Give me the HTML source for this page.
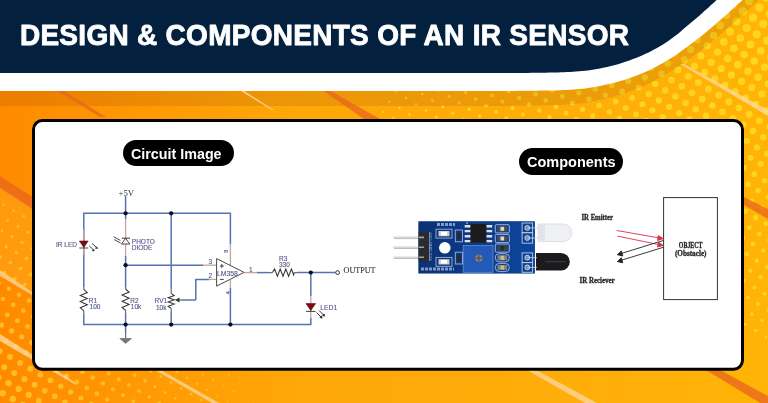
<!DOCTYPE html>
<html><head><meta charset="utf-8">
<style>
html,body{margin:0;padding:0;width:768px;height:403px;overflow:hidden;background:#f29a12;}
svg{position:absolute;left:0;top:0;display:block;filter:blur(0.4px);}
text{font-family:"Liberation Sans",sans-serif;}
text.serif,.serif text{font-family:"Liberation Serif",serif;}
</style></head>
<body>
<svg width="768" height="403" viewBox="0 0 768 403">
<defs>
  <linearGradient id="bg" x1="0" y1="0" x2="768" y2="0" gradientUnits="userSpaceOnUse">
    <stop offset="0" stop-color="#ff8a00"/>
    <stop offset="0.26" stop-color="#ff9f05"/>
    <stop offset="0.4" stop-color="#ffa808"/>
    <stop offset="0.78" stop-color="#ffae0a"/>
    <stop offset="1" stop-color="#ffb406"/>
  </linearGradient>
  <pattern id="dotsA" width="12" height="12" patternUnits="userSpaceOnUse" patternTransform="rotate(32)">
    <circle cx="6" cy="6" r="3.7" fill="#ffd820"/>
  </pattern>
  <pattern id="dotsB" width="11.7" height="11.7" patternUnits="userSpaceOnUse" patternTransform="rotate(30)">
    <circle cx="5.85" cy="5.85" r="2.9" fill="#ffc026"/>
  </pattern>
  <radialGradient id="mA" cx="768" cy="0" r="360" gradientUnits="userSpaceOnUse">
    <stop offset="0" stop-color="#fff" stop-opacity="0.95"/>
    <stop offset="0.55" stop-color="#fff" stop-opacity="0.7"/>
    <stop offset="1" stop-color="#fff" stop-opacity="0"/>
  </radialGradient>
  <radialGradient id="mB" cx="0" cy="403" r="250" gradientUnits="userSpaceOnUse">
    <stop offset="0" stop-color="#fff" stop-opacity="1"/>
    <stop offset="0.45" stop-color="#fff" stop-opacity="0.8"/>
    <stop offset="0.75" stop-color="#fff" stop-opacity="0.35"/>
    <stop offset="1" stop-color="#fff" stop-opacity="0"/>
  </radialGradient>
  <mask id="maskA"><rect width="768" height="403" fill="url(#mA)"/></mask>
  <mask id="maskB"><rect width="768" height="403" fill="url(#mB)"/></mask>
</defs>
<rect x="0" y="0" width="768" height="403" fill="url(#bg)"/>
<!-- subtle diagonal tonal bands -->
<path d="M0,186 L40,212 L40,298 L0,272 Z" fill="#ffd040" fill-opacity="0.22"/>

<g fill="#ffd820" fill-opacity="0.9"><circle cx="393.0" cy="5.1" r="1.30"/><circle cx="386.7" cy="15.2" r="1.25"/><circle cx="380.3" cy="25.4" r="1.19"/><circle cx="409.6" cy="1.2" r="1.43"/><circle cx="403.2" cy="11.4" r="1.38"/><circle cx="396.9" cy="21.6" r="1.33"/><circle cx="390.5" cy="31.8" r="1.27"/><circle cx="384.1" cy="41.9" r="1.21"/><circle cx="419.8" cy="7.6" r="1.51"/><circle cx="413.4" cy="17.8" r="1.46"/><circle cx="407.0" cy="27.9" r="1.40"/><circle cx="400.7" cy="38.1" r="1.35"/><circle cx="394.3" cy="48.3" r="1.29"/><circle cx="388.0" cy="58.5" r="1.22"/><circle cx="381.6" cy="68.7" r="1.16"/><circle cx="436.3" cy="3.8" r="1.65"/><circle cx="429.9" cy="14.0" r="1.59"/><circle cx="423.6" cy="24.1" r="1.54"/><circle cx="417.2" cy="34.3" r="1.48"/><circle cx="410.9" cy="44.5" r="1.42"/><circle cx="404.5" cy="54.7" r="1.36"/><circle cx="398.1" cy="64.8" r="1.30"/><circle cx="391.8" cy="75.0" r="1.23"/><circle cx="385.4" cy="85.2" r="1.16"/><circle cx="452.8" cy="-0.0" r="1.78"/><circle cx="446.5" cy="10.1" r="1.73"/><circle cx="440.1" cy="20.3" r="1.67"/><circle cx="433.8" cy="30.5" r="1.62"/><circle cx="427.4" cy="40.7" r="1.56"/><circle cx="421.0" cy="50.8" r="1.49"/><circle cx="414.7" cy="61.0" r="1.43"/><circle cx="408.3" cy="71.2" r="1.37"/><circle cx="402.0" cy="81.4" r="1.30"/><circle cx="395.6" cy="91.5" r="1.23"/><circle cx="389.2" cy="101.7" r="1.16"/><circle cx="382.9" cy="111.9" r="1.09"/><circle cx="463.0" cy="6.3" r="1.86"/><circle cx="456.6" cy="16.5" r="1.81"/><circle cx="450.3" cy="26.7" r="1.75"/><circle cx="443.9" cy="36.8" r="1.69"/><circle cx="437.6" cy="47.0" r="1.63"/><circle cx="431.2" cy="57.2" r="1.57"/><circle cx="424.9" cy="67.4" r="1.50"/><circle cx="418.5" cy="77.6" r="1.44"/><circle cx="412.1" cy="87.7" r="1.37"/><circle cx="405.8" cy="97.9" r="1.30"/><circle cx="399.4" cy="108.1" r="1.23"/><circle cx="393.1" cy="118.3" r="1.16"/><circle cx="479.5" cy="2.5" r="1.99"/><circle cx="473.2" cy="12.7" r="1.94"/><circle cx="466.8" cy="22.9" r="1.88"/><circle cx="460.5" cy="33.0" r="1.83"/><circle cx="454.1" cy="43.2" r="1.77"/><circle cx="447.7" cy="53.4" r="1.70"/><circle cx="441.4" cy="63.6" r="1.64"/><circle cx="435.0" cy="73.7" r="1.57"/><circle cx="428.7" cy="83.9" r="1.50"/><circle cx="422.3" cy="94.1" r="1.43"/><circle cx="416.0" cy="104.3" r="1.36"/><circle cx="409.6" cy="114.4" r="1.29"/><circle cx="403.2" cy="124.6" r="1.22"/><circle cx="496.1" cy="-1.3" r="2.12"/><circle cx="489.7" cy="8.9" r="2.07"/><circle cx="483.4" cy="19.0" r="2.02"/><circle cx="477.0" cy="29.2" r="1.96"/><circle cx="470.6" cy="39.4" r="1.90"/><circle cx="464.3" cy="49.6" r="1.84"/><circle cx="457.9" cy="59.7" r="1.77"/><circle cx="451.6" cy="69.9" r="1.71"/><circle cx="445.2" cy="80.1" r="1.64"/><circle cx="438.8" cy="90.3" r="1.57"/><circle cx="432.5" cy="100.4" r="1.50"/><circle cx="426.1" cy="110.6" r="1.43"/><circle cx="419.8" cy="120.8" r="1.35"/><circle cx="413.4" cy="131.0" r="1.28"/><circle cx="506.3" cy="5.0" r="2.21"/><circle cx="499.9" cy="15.2" r="2.15"/><circle cx="493.5" cy="25.4" r="2.09"/><circle cx="487.2" cy="35.6" r="2.04"/><circle cx="480.8" cy="45.7" r="1.97"/><circle cx="474.5" cy="55.9" r="1.91"/><circle cx="468.1" cy="66.1" r="1.84"/><circle cx="461.7" cy="76.3" r="1.77"/><circle cx="455.4" cy="86.5" r="1.71"/><circle cx="449.0" cy="96.6" r="1.63"/><circle cx="442.7" cy="106.8" r="1.56"/><circle cx="436.3" cy="117.0" r="1.49"/><circle cx="429.9" cy="127.2" r="1.41"/><circle cx="423.6" cy="137.3" r="1.33"/><circle cx="522.8" cy="1.2" r="2.34"/><circle cx="516.4" cy="11.4" r="2.29"/><circle cx="510.1" cy="21.6" r="2.23"/><circle cx="503.7" cy="31.8" r="2.17"/><circle cx="497.4" cy="41.9" r="2.11"/><circle cx="491.0" cy="52.1" r="2.05"/><circle cx="484.6" cy="62.3" r="1.98"/><circle cx="478.3" cy="72.5" r="1.91"/><circle cx="471.9" cy="82.6" r="1.84"/><circle cx="465.6" cy="92.8" r="1.77"/><circle cx="459.2" cy="103.0" r="1.70"/><circle cx="452.8" cy="113.2" r="1.62"/><circle cx="446.5" cy="123.3" r="1.55"/><circle cx="440.1" cy="133.5" r="1.47"/><circle cx="433.8" cy="143.7" r="1.39"/><circle cx="533.0" cy="7.6" r="2.42"/><circle cx="526.6" cy="17.8" r="2.36"/><circle cx="520.2" cy="27.9" r="2.31"/><circle cx="513.9" cy="38.1" r="2.24"/><circle cx="507.5" cy="48.3" r="2.18"/><circle cx="501.2" cy="58.5" r="2.11"/><circle cx="494.8" cy="68.6" r="2.05"/><circle cx="488.5" cy="78.8" r="1.98"/><circle cx="482.1" cy="89.0" r="1.90"/><circle cx="475.7" cy="99.2" r="1.83"/><circle cx="469.4" cy="109.3" r="1.76"/><circle cx="463.0" cy="119.5" r="1.68"/><circle cx="456.7" cy="129.7" r="1.60"/><circle cx="450.3" cy="139.9" r="1.52"/><circle cx="549.5" cy="3.8" r="2.55"/><circle cx="543.1" cy="13.9" r="2.50"/><circle cx="536.8" cy="24.1" r="2.44"/><circle cx="530.4" cy="34.3" r="2.38"/><circle cx="524.1" cy="44.5" r="2.32"/><circle cx="517.7" cy="54.6" r="2.25"/><circle cx="511.3" cy="64.8" r="2.18"/><circle cx="505.0" cy="75.0" r="2.11"/><circle cx="498.6" cy="85.2" r="2.04"/><circle cx="492.3" cy="95.4" r="1.97"/><circle cx="485.9" cy="105.5" r="1.89"/><circle cx="479.6" cy="115.7" r="1.81"/><circle cx="473.2" cy="125.9" r="1.74"/><circle cx="466.8" cy="136.1" r="1.66"/><circle cx="460.5" cy="146.2" r="1.58"/><circle cx="566.0" cy="-0.1" r="2.68"/><circle cx="559.7" cy="10.1" r="2.63"/><circle cx="553.3" cy="20.3" r="2.57"/><circle cx="547.0" cy="30.5" r="2.52"/><circle cx="540.6" cy="40.7" r="2.45"/><circle cx="534.2" cy="50.8" r="2.39"/><circle cx="527.9" cy="61.0" r="2.32"/><circle cx="521.5" cy="71.2" r="2.25"/><circle cx="515.2" cy="81.4" r="2.18"/><circle cx="508.8" cy="91.5" r="2.10"/><circle cx="502.4" cy="101.7" r="2.02"/><circle cx="496.1" cy="111.9" r="1.95"/><circle cx="489.7" cy="122.1" r="1.87"/><circle cx="483.4" cy="132.2" r="1.79"/><circle cx="477.0" cy="142.4" r="1.71"/><circle cx="470.7" cy="152.6" r="1.63"/><circle cx="576.2" cy="6.3" r="2.76"/><circle cx="569.9" cy="16.5" r="2.71"/><circle cx="563.5" cy="26.7" r="2.65"/><circle cx="557.1" cy="36.8" r="2.59"/><circle cx="550.8" cy="47.0" r="2.52"/><circle cx="544.4" cy="57.2" r="2.45"/><circle cx="538.1" cy="67.4" r="2.38"/><circle cx="531.7" cy="77.5" r="2.31"/><circle cx="525.3" cy="87.7" r="2.24"/><circle cx="519.0" cy="97.9" r="2.16"/><circle cx="512.6" cy="108.1" r="2.08"/><circle cx="506.3" cy="118.2" r="2.00"/><circle cx="499.9" cy="128.4" r="1.92"/><circle cx="493.5" cy="138.6" r="1.84"/><circle cx="487.2" cy="148.8" r="1.76"/><circle cx="480.8" cy="159.0" r="1.67"/><circle cx="592.8" cy="2.5" r="2.90"/><circle cx="586.4" cy="12.7" r="2.84"/><circle cx="580.0" cy="22.8" r="2.78"/><circle cx="573.7" cy="33.0" r="2.72"/><circle cx="567.3" cy="43.2" r="2.66"/><circle cx="561.0" cy="53.4" r="2.59"/><circle cx="554.6" cy="63.5" r="2.52"/><circle cx="548.2" cy="73.7" r="2.45"/><circle cx="541.9" cy="83.9" r="2.37"/><circle cx="535.5" cy="94.1" r="2.29"/><circle cx="529.2" cy="104.3" r="2.22"/><circle cx="522.8" cy="114.4" r="2.14"/><circle cx="516.4" cy="124.6" r="2.05"/><circle cx="510.1" cy="134.8" r="1.97"/><circle cx="503.7" cy="145.0" r="1.89"/><circle cx="497.4" cy="155.1" r="1.80"/><circle cx="491.0" cy="165.3" r="1.72"/><circle cx="609.3" cy="-1.3" r="3.03"/><circle cx="602.9" cy="8.8" r="2.98"/><circle cx="596.6" cy="19.0" r="2.92"/><circle cx="590.2" cy="29.2" r="2.86"/><circle cx="583.9" cy="39.4" r="2.79"/><circle cx="577.5" cy="49.6" r="2.73"/><circle cx="571.1" cy="59.7" r="2.65"/><circle cx="564.8" cy="69.9" r="2.58"/><circle cx="558.4" cy="80.1" r="2.50"/><circle cx="552.1" cy="90.3" r="2.43"/><circle cx="545.7" cy="100.4" r="2.35"/><circle cx="539.3" cy="110.6" r="2.27"/><circle cx="533.0" cy="120.8" r="2.19"/><circle cx="526.6" cy="131.0" r="2.10"/><circle cx="520.3" cy="141.1" r="2.02"/><circle cx="513.9" cy="151.3" r="1.93"/><circle cx="507.5" cy="161.5" r="1.85"/><circle cx="501.2" cy="171.7" r="1.76"/><circle cx="619.5" cy="5.0" r="3.11"/><circle cx="613.1" cy="15.2" r="3.05"/><circle cx="606.7" cy="25.4" r="2.99"/><circle cx="600.4" cy="35.6" r="2.93"/><circle cx="594.0" cy="45.7" r="2.86"/><circle cx="587.7" cy="55.9" r="2.79"/><circle cx="581.3" cy="66.1" r="2.72"/><circle cx="575.0" cy="76.3" r="2.64"/><circle cx="568.6" cy="86.4" r="2.56"/><circle cx="562.2" cy="96.6" r="2.48"/><circle cx="555.9" cy="106.8" r="2.40"/><circle cx="549.5" cy="117.0" r="2.32"/><circle cx="543.2" cy="127.1" r="2.23"/><circle cx="536.8" cy="137.3" r="2.15"/><circle cx="530.4" cy="147.5" r="2.06"/><circle cx="524.1" cy="157.7" r="1.98"/><circle cx="517.7" cy="167.9" r="1.89"/><circle cx="511.4" cy="178.0" r="1.80"/><circle cx="636.0" cy="1.2" r="3.24"/><circle cx="629.6" cy="11.4" r="3.19"/><circle cx="623.3" cy="21.6" r="3.13"/><circle cx="616.9" cy="31.7" r="3.06"/><circle cx="610.6" cy="41.9" r="3.00"/><circle cx="604.2" cy="52.1" r="2.92"/><circle cx="597.8" cy="62.3" r="2.85"/><circle cx="591.5" cy="72.4" r="2.77"/><circle cx="585.1" cy="82.6" r="2.69"/><circle cx="578.8" cy="92.8" r="2.61"/><circle cx="572.4" cy="103.0" r="2.53"/><circle cx="566.0" cy="113.2" r="2.45"/><circle cx="559.7" cy="123.3" r="2.36"/><circle cx="553.3" cy="133.5" r="2.28"/><circle cx="547.0" cy="143.7" r="2.19"/><circle cx="540.6" cy="153.9" r="2.10"/><circle cx="534.3" cy="164.0" r="2.02"/><circle cx="527.9" cy="174.2" r="1.93"/><circle cx="521.5" cy="184.4" r="1.84"/><circle cx="652.5" cy="-2.6" r="3.38"/><circle cx="646.2" cy="7.6" r="3.32"/><circle cx="639.8" cy="17.7" r="3.26"/><circle cx="633.5" cy="27.9" r="3.20"/><circle cx="627.1" cy="38.1" r="3.13"/><circle cx="620.7" cy="48.3" r="3.06"/><circle cx="614.4" cy="58.5" r="2.99"/><circle cx="608.0" cy="68.6" r="2.91"/><circle cx="601.7" cy="78.8" r="2.83"/><circle cx="595.3" cy="89.0" r="2.75"/><circle cx="588.9" cy="99.2" r="2.66"/><circle cx="582.6" cy="109.3" r="2.58"/><circle cx="576.2" cy="119.5" r="2.49"/><circle cx="569.9" cy="129.7" r="2.41"/><circle cx="563.5" cy="139.9" r="2.32"/><circle cx="557.1" cy="150.0" r="2.23"/><circle cx="550.8" cy="160.2" r="2.14"/><circle cx="544.4" cy="170.4" r="2.05"/><circle cx="538.1" cy="180.6" r="1.96"/><circle cx="531.7" cy="190.7" r="1.87"/><circle cx="662.7" cy="3.8" r="3.46"/><circle cx="656.4" cy="13.9" r="3.40"/><circle cx="650.0" cy="24.1" r="3.34"/><circle cx="643.6" cy="34.3" r="3.27"/><circle cx="637.3" cy="44.5" r="3.20"/><circle cx="630.9" cy="54.6" r="3.12"/><circle cx="624.6" cy="64.8" r="3.04"/><circle cx="618.2" cy="75.0" r="2.96"/><circle cx="611.8" cy="85.2" r="2.88"/><circle cx="605.5" cy="95.3" r="2.79"/><circle cx="599.1" cy="105.5" r="2.71"/><circle cx="592.8" cy="115.7" r="2.62"/><circle cx="586.4" cy="125.9" r="2.53"/><circle cx="580.0" cy="136.0" r="2.44"/><circle cx="573.7" cy="146.2" r="2.35"/><circle cx="567.3" cy="156.4" r="2.26"/><circle cx="561.0" cy="166.6" r="2.17"/><circle cx="554.6" cy="176.8" r="2.08"/><circle cx="548.2" cy="186.9" r="1.99"/><circle cx="541.9" cy="197.1" r="1.90"/><circle cx="679.2" cy="-0.1" r="3.59"/><circle cx="672.9" cy="10.1" r="3.53"/><circle cx="666.5" cy="20.3" r="3.47"/><circle cx="660.2" cy="30.5" r="3.40"/><circle cx="653.8" cy="40.6" r="3.33"/><circle cx="647.5" cy="50.8" r="3.25"/><circle cx="641.1" cy="61.0" r="3.17"/><circle cx="634.7" cy="71.2" r="3.09"/><circle cx="628.4" cy="81.3" r="3.01"/><circle cx="622.0" cy="91.5" r="2.92"/><circle cx="615.7" cy="101.7" r="2.83"/><circle cx="609.3" cy="111.9" r="2.75"/><circle cx="602.9" cy="122.1" r="2.66"/><circle cx="596.6" cy="132.2" r="2.57"/><circle cx="590.2" cy="142.4" r="2.48"/><circle cx="583.9" cy="152.6" r="2.39"/><circle cx="577.5" cy="162.8" r="2.30"/><circle cx="571.1" cy="172.9" r="2.20"/><circle cx="564.8" cy="183.1" r="2.11"/><circle cx="558.4" cy="193.3" r="2.02"/><circle cx="552.1" cy="203.5" r="1.93"/><circle cx="695.8" cy="-3.9" r="3.72"/><circle cx="689.4" cy="6.3" r="3.67"/><circle cx="683.1" cy="16.5" r="3.61"/><circle cx="676.7" cy="26.6" r="3.54"/><circle cx="670.3" cy="36.8" r="3.46"/><circle cx="664.0" cy="47.0" r="3.39"/><circle cx="657.6" cy="57.2" r="3.31"/><circle cx="651.3" cy="67.4" r="3.22"/><circle cx="644.9" cy="77.5" r="3.14"/><circle cx="638.6" cy="87.7" r="3.05"/><circle cx="632.2" cy="97.9" r="2.96"/><circle cx="625.8" cy="108.1" r="2.87"/><circle cx="619.5" cy="118.2" r="2.78"/><circle cx="613.1" cy="128.4" r="2.69"/><circle cx="606.8" cy="138.6" r="2.60"/><circle cx="600.4" cy="148.8" r="2.51"/><circle cx="594.0" cy="158.9" r="2.41"/><circle cx="587.7" cy="169.1" r="2.32"/><circle cx="581.3" cy="179.3" r="2.23"/><circle cx="575.0" cy="189.5" r="2.14"/><circle cx="568.6" cy="199.7" r="2.04"/><circle cx="562.2" cy="209.8" r="1.95"/><circle cx="706.0" cy="2.5" r="3.80"/><circle cx="699.6" cy="12.7" r="3.74"/><circle cx="693.2" cy="22.8" r="3.67"/><circle cx="686.9" cy="33.0" r="3.60"/><circle cx="680.5" cy="43.2" r="3.52"/><circle cx="674.2" cy="53.4" r="3.44"/><circle cx="667.8" cy="63.5" r="3.35"/><circle cx="661.4" cy="73.7" r="3.26"/><circle cx="655.1" cy="83.9" r="3.17"/><circle cx="648.7" cy="94.1" r="3.08"/><circle cx="642.4" cy="104.2" r="2.99"/><circle cx="636.0" cy="114.4" r="2.90"/><circle cx="629.7" cy="124.6" r="2.81"/><circle cx="623.3" cy="134.8" r="2.72"/><circle cx="616.9" cy="144.9" r="2.63"/><circle cx="610.6" cy="155.1" r="2.53"/><circle cx="604.2" cy="165.3" r="2.44"/><circle cx="597.9" cy="175.5" r="2.34"/><circle cx="591.5" cy="185.7" r="2.25"/><circle cx="585.1" cy="195.8" r="2.16"/><circle cx="578.8" cy="206.0" r="2.06"/><circle cx="572.4" cy="216.2" r="1.97"/><circle cx="722.5" cy="-1.3" r="3.94"/><circle cx="716.1" cy="8.8" r="3.88"/><circle cx="709.8" cy="19.0" r="3.81"/><circle cx="703.4" cy="29.2" r="3.73"/><circle cx="697.1" cy="39.4" r="3.65"/><circle cx="690.7" cy="49.5" r="3.57"/><circle cx="684.3" cy="59.7" r="3.48"/><circle cx="678.0" cy="69.9" r="3.39"/><circle cx="671.6" cy="80.1" r="3.30"/><circle cx="665.3" cy="90.2" r="3.21"/><circle cx="658.9" cy="100.4" r="3.11"/><circle cx="652.5" cy="110.6" r="3.02"/><circle cx="646.2" cy="120.8" r="2.93"/><circle cx="639.8" cy="131.0" r="2.83"/><circle cx="633.5" cy="141.1" r="2.74"/><circle cx="627.1" cy="151.3" r="2.65"/><circle cx="620.7" cy="161.5" r="2.55"/><circle cx="614.4" cy="171.7" r="2.46"/><circle cx="608.0" cy="181.8" r="2.36"/><circle cx="601.7" cy="192.0" r="2.27"/><circle cx="595.3" cy="202.2" r="2.17"/><circle cx="589.0" cy="212.4" r="2.08"/><circle cx="582.6" cy="222.5" r="1.98"/><circle cx="732.7" cy="5.0" r="4.01"/><circle cx="726.3" cy="15.2" r="3.94"/><circle cx="720.0" cy="25.4" r="3.87"/><circle cx="713.6" cy="35.5" r="3.78"/><circle cx="707.2" cy="45.7" r="3.69"/><circle cx="700.9" cy="55.9" r="3.60"/><circle cx="694.5" cy="66.1" r="3.51"/><circle cx="688.2" cy="76.3" r="3.42"/><circle cx="681.8" cy="86.4" r="3.32"/><circle cx="675.4" cy="96.6" r="3.23"/><circle cx="669.1" cy="106.8" r="3.14"/><circle cx="662.7" cy="117.0" r="3.04"/><circle cx="656.4" cy="127.1" r="2.95"/><circle cx="650.0" cy="137.3" r="2.85"/><circle cx="643.6" cy="147.5" r="2.76"/><circle cx="637.3" cy="157.7" r="2.66"/><circle cx="630.9" cy="167.8" r="2.57"/><circle cx="624.6" cy="178.0" r="2.47"/><circle cx="618.2" cy="188.2" r="2.38"/><circle cx="611.8" cy="198.4" r="2.28"/><circle cx="605.5" cy="208.6" r="2.18"/><circle cx="599.1" cy="218.7" r="2.09"/><circle cx="592.8" cy="228.9" r="1.99"/><circle cx="749.2" cy="1.2" r="4.15"/><circle cx="742.8" cy="11.4" r="4.08"/><circle cx="736.5" cy="21.6" r="3.99"/><circle cx="730.1" cy="31.7" r="3.90"/><circle cx="723.8" cy="41.9" r="3.81"/><circle cx="717.4" cy="52.1" r="3.72"/><circle cx="711.1" cy="62.3" r="3.63"/><circle cx="704.7" cy="72.4" r="3.53"/><circle cx="698.3" cy="82.6" r="3.44"/><circle cx="692.0" cy="92.8" r="3.34"/><circle cx="685.6" cy="103.0" r="3.24"/><circle cx="679.3" cy="113.1" r="3.15"/><circle cx="672.9" cy="123.3" r="3.05"/><circle cx="666.5" cy="133.5" r="2.96"/><circle cx="660.2" cy="143.7" r="2.86"/><circle cx="653.8" cy="153.9" r="2.77"/><circle cx="647.5" cy="164.0" r="2.67"/><circle cx="641.1" cy="174.2" r="2.58"/><circle cx="634.7" cy="184.4" r="2.48"/><circle cx="628.4" cy="194.6" r="2.38"/><circle cx="622.0" cy="204.7" r="2.29"/><circle cx="615.7" cy="214.9" r="2.19"/><circle cx="609.3" cy="225.1" r="2.10"/><circle cx="602.9" cy="235.3" r="2.00"/><circle cx="765.7" cy="-2.6" r="4.27"/><circle cx="759.4" cy="7.6" r="4.21"/><circle cx="753.0" cy="17.7" r="4.11"/><circle cx="746.7" cy="27.9" r="4.02"/><circle cx="740.3" cy="38.1" r="3.92"/><circle cx="733.9" cy="48.3" r="3.83"/><circle cx="727.6" cy="58.4" r="3.73"/><circle cx="721.2" cy="68.6" r="3.64"/><circle cx="714.9" cy="78.8" r="3.54"/><circle cx="708.5" cy="89.0" r="3.44"/><circle cx="702.2" cy="99.1" r="3.35"/><circle cx="695.8" cy="109.3" r="3.25"/><circle cx="689.4" cy="119.5" r="3.16"/><circle cx="683.1" cy="129.7" r="3.06"/><circle cx="676.7" cy="139.9" r="2.96"/><circle cx="670.4" cy="150.0" r="2.87"/><circle cx="664.0" cy="160.2" r="2.77"/><circle cx="657.6" cy="170.4" r="2.68"/><circle cx="651.3" cy="180.6" r="2.58"/><circle cx="644.9" cy="190.7" r="2.48"/><circle cx="638.6" cy="200.9" r="2.39"/><circle cx="632.2" cy="211.1" r="2.29"/><circle cx="625.8" cy="221.3" r="2.20"/><circle cx="619.5" cy="231.4" r="2.10"/><circle cx="613.1" cy="241.6" r="2.00"/><circle cx="769.6" cy="13.9" r="4.19"/><circle cx="763.2" cy="24.1" r="4.10"/><circle cx="756.8" cy="34.3" r="4.01"/><circle cx="750.5" cy="44.4" r="3.92"/><circle cx="744.1" cy="54.6" r="3.82"/><circle cx="737.8" cy="64.8" r="3.73"/><circle cx="731.4" cy="75.0" r="3.63"/><circle cx="725.0" cy="85.2" r="3.54"/><circle cx="718.7" cy="95.3" r="3.44"/><circle cx="712.3" cy="105.5" r="3.35"/><circle cx="706.0" cy="115.7" r="3.25"/><circle cx="699.6" cy="125.9" r="3.15"/><circle cx="693.3" cy="136.0" r="3.06"/><circle cx="686.9" cy="146.2" r="2.96"/><circle cx="680.5" cy="156.4" r="2.87"/><circle cx="674.2" cy="166.6" r="2.77"/><circle cx="667.8" cy="176.7" r="2.67"/><circle cx="661.5" cy="186.9" r="2.58"/><circle cx="655.1" cy="197.1" r="2.48"/><circle cx="648.7" cy="207.3" r="2.39"/><circle cx="642.4" cy="217.5" r="2.29"/><circle cx="636.0" cy="227.6" r="2.20"/><circle cx="629.7" cy="237.8" r="2.10"/><circle cx="623.3" cy="248.0" r="2.00"/><circle cx="767.0" cy="40.6" r="3.98"/><circle cx="760.7" cy="50.8" r="3.89"/><circle cx="754.3" cy="61.0" r="3.80"/><circle cx="747.9" cy="71.2" r="3.71"/><circle cx="741.6" cy="81.3" r="3.62"/><circle cx="735.2" cy="91.5" r="3.52"/><circle cx="728.9" cy="101.7" r="3.43"/><circle cx="722.5" cy="111.9" r="3.33"/><circle cx="716.1" cy="122.0" r="3.24"/><circle cx="709.8" cy="132.2" r="3.14"/><circle cx="703.4" cy="142.4" r="3.05"/><circle cx="697.1" cy="152.6" r="2.95"/><circle cx="690.7" cy="162.8" r="2.86"/><circle cx="684.4" cy="172.9" r="2.76"/><circle cx="678.0" cy="183.1" r="2.67"/><circle cx="671.6" cy="193.3" r="2.57"/><circle cx="665.3" cy="203.5" r="2.48"/><circle cx="658.9" cy="213.6" r="2.38"/><circle cx="652.6" cy="223.8" r="2.29"/><circle cx="646.2" cy="234.0" r="2.19"/><circle cx="639.8" cy="244.2" r="2.09"/><circle cx="633.5" cy="254.3" r="2.00"/><circle cx="770.8" cy="57.2" r="3.84"/><circle cx="764.5" cy="67.3" r="3.76"/><circle cx="758.1" cy="77.5" r="3.67"/><circle cx="751.8" cy="87.7" r="3.59"/><circle cx="745.4" cy="97.9" r="3.50"/><circle cx="739.0" cy="108.1" r="3.40"/><circle cx="732.7" cy="118.2" r="3.31"/><circle cx="726.3" cy="128.4" r="3.22"/><circle cx="720.0" cy="138.6" r="3.13"/><circle cx="713.6" cy="148.8" r="3.03"/><circle cx="707.2" cy="158.9" r="2.94"/><circle cx="700.9" cy="169.1" r="2.84"/><circle cx="694.5" cy="179.3" r="2.75"/><circle cx="688.2" cy="189.5" r="2.66"/><circle cx="681.8" cy="199.6" r="2.56"/><circle cx="675.5" cy="209.8" r="2.47"/><circle cx="669.1" cy="220.0" r="2.37"/><circle cx="662.7" cy="230.2" r="2.27"/><circle cx="656.4" cy="240.3" r="2.18"/><circle cx="650.0" cy="250.5" r="2.08"/><circle cx="643.7" cy="260.7" r="1.99"/><circle cx="768.3" cy="83.9" r="3.63"/><circle cx="761.9" cy="94.1" r="3.55"/><circle cx="755.6" cy="104.2" r="3.46"/><circle cx="749.2" cy="114.4" r="3.37"/><circle cx="742.9" cy="124.6" r="3.28"/><circle cx="736.5" cy="134.8" r="3.19"/><circle cx="730.1" cy="144.9" r="3.10"/><circle cx="723.8" cy="155.1" r="3.01"/><circle cx="717.4" cy="165.3" r="2.92"/><circle cx="711.1" cy="175.5" r="2.82"/><circle cx="704.7" cy="185.6" r="2.73"/><circle cx="698.3" cy="195.8" r="2.64"/><circle cx="692.0" cy="206.0" r="2.54"/><circle cx="685.6" cy="216.2" r="2.45"/><circle cx="679.3" cy="226.4" r="2.35"/><circle cx="672.9" cy="236.5" r="2.26"/><circle cx="666.5" cy="246.7" r="2.17"/><circle cx="660.2" cy="256.9" r="2.07"/><circle cx="653.8" cy="267.1" r="1.98"/><circle cx="772.1" cy="100.4" r="3.50"/><circle cx="765.8" cy="110.6" r="3.42"/><circle cx="759.4" cy="120.8" r="3.33"/><circle cx="753.0" cy="130.9" r="3.25"/><circle cx="746.7" cy="141.1" r="3.16"/><circle cx="740.3" cy="151.3" r="3.07"/><circle cx="734.0" cy="161.5" r="2.98"/><circle cx="727.6" cy="171.7" r="2.89"/><circle cx="721.2" cy="181.8" r="2.80"/><circle cx="714.9" cy="192.0" r="2.71"/><circle cx="708.5" cy="202.2" r="2.61"/><circle cx="702.2" cy="212.4" r="2.52"/><circle cx="695.8" cy="222.5" r="2.43"/><circle cx="689.4" cy="232.7" r="2.34"/><circle cx="683.1" cy="242.9" r="2.24"/><circle cx="676.7" cy="253.1" r="2.15"/><circle cx="670.4" cy="263.2" r="2.05"/><circle cx="664.0" cy="273.4" r="1.96"/><circle cx="769.6" cy="127.1" r="3.28"/><circle cx="763.2" cy="137.3" r="3.20"/><circle cx="756.9" cy="147.5" r="3.12"/><circle cx="750.5" cy="157.7" r="3.03"/><circle cx="744.1" cy="167.8" r="2.94"/><circle cx="737.8" cy="178.0" r="2.86"/><circle cx="731.4" cy="188.2" r="2.77"/><circle cx="725.1" cy="198.4" r="2.68"/><circle cx="718.7" cy="208.5" r="2.59"/><circle cx="712.3" cy="218.7" r="2.49"/><circle cx="706.0" cy="228.9" r="2.40"/><circle cx="699.6" cy="239.1" r="2.31"/><circle cx="693.3" cy="249.2" r="2.22"/><circle cx="686.9" cy="259.4" r="2.13"/><circle cx="680.5" cy="269.6" r="2.03"/><circle cx="674.2" cy="279.8" r="1.94"/><circle cx="767.0" cy="153.8" r="3.07"/><circle cx="760.7" cy="164.0" r="2.99"/><circle cx="754.3" cy="174.2" r="2.90"/><circle cx="748.0" cy="184.4" r="2.82"/><circle cx="741.6" cy="194.5" r="2.73"/><circle cx="735.2" cy="204.7" r="2.64"/><circle cx="728.9" cy="214.9" r="2.55"/><circle cx="722.5" cy="225.1" r="2.46"/><circle cx="716.2" cy="235.3" r="2.37"/><circle cx="709.8" cy="245.4" r="2.28"/><circle cx="703.4" cy="255.6" r="2.19"/><circle cx="697.1" cy="265.8" r="2.10"/><circle cx="690.7" cy="276.0" r="2.01"/><circle cx="684.4" cy="286.1" r="1.92"/><circle cx="770.8" cy="170.4" r="2.94"/><circle cx="764.5" cy="180.6" r="2.85"/><circle cx="758.1" cy="190.7" r="2.77"/><circle cx="751.8" cy="200.9" r="2.69"/><circle cx="745.4" cy="211.1" r="2.60"/><circle cx="739.1" cy="221.3" r="2.51"/><circle cx="732.7" cy="231.4" r="2.43"/><circle cx="726.3" cy="241.6" r="2.34"/><circle cx="720.0" cy="251.8" r="2.25"/><circle cx="713.6" cy="262.0" r="2.16"/><circle cx="707.3" cy="272.1" r="2.07"/><circle cx="700.9" cy="282.3" r="1.98"/><circle cx="694.5" cy="292.5" r="1.89"/><circle cx="768.3" cy="197.1" r="2.72"/><circle cx="761.9" cy="207.3" r="2.64"/><circle cx="755.6" cy="217.4" r="2.56"/><circle cx="749.2" cy="227.6" r="2.47"/><circle cx="742.9" cy="237.8" r="2.39"/><circle cx="736.5" cy="248.0" r="2.30"/><circle cx="730.2" cy="258.1" r="2.21"/><circle cx="723.8" cy="268.3" r="2.12"/><circle cx="717.4" cy="278.5" r="2.04"/><circle cx="711.1" cy="288.7" r="1.95"/><circle cx="704.7" cy="298.9" r="1.86"/><circle cx="772.1" cy="213.6" r="2.59"/><circle cx="765.8" cy="223.8" r="2.51"/><circle cx="759.4" cy="234.0" r="2.43"/><circle cx="753.0" cy="244.2" r="2.34"/><circle cx="746.7" cy="254.3" r="2.26"/><circle cx="740.3" cy="264.5" r="2.17"/><circle cx="734.0" cy="274.7" r="2.09"/><circle cx="727.6" cy="284.9" r="2.00"/><circle cx="721.3" cy="295.0" r="1.91"/><circle cx="714.9" cy="305.2" r="1.82"/><circle cx="769.6" cy="240.3" r="2.38"/><circle cx="763.2" cy="250.5" r="2.30"/><circle cx="756.9" cy="260.7" r="2.21"/><circle cx="750.5" cy="270.9" r="2.13"/><circle cx="744.1" cy="281.0" r="2.04"/><circle cx="737.8" cy="291.2" r="1.96"/><circle cx="731.4" cy="301.4" r="1.87"/><circle cx="725.1" cy="311.6" r="1.78"/><circle cx="767.0" cy="267.0" r="2.16"/><circle cx="760.7" cy="277.2" r="2.08"/><circle cx="754.3" cy="287.4" r="2.00"/><circle cx="748.0" cy="297.6" r="1.91"/><circle cx="741.6" cy="307.8" r="1.83"/><circle cx="735.2" cy="317.9" r="1.74"/><circle cx="770.9" cy="283.6" r="2.03"/><circle cx="764.5" cy="293.8" r="1.95"/><circle cx="758.1" cy="303.9" r="1.87"/><circle cx="751.8" cy="314.1" r="1.78"/><circle cx="745.4" cy="324.3" r="1.70"/><circle cx="768.3" cy="310.3" r="1.82"/><circle cx="762.0" cy="320.5" r="1.74"/><circle cx="755.6" cy="330.6" r="1.65"/><circle cx="772.1" cy="326.8" r="1.69"/><circle cx="765.8" cy="337.0" r="1.60"/></g>
<g fill="#ffc026" fill-opacity="0.92"><circle cx="3.4" cy="204.6" r="1.22"/><circle cx="-2.4" cy="214.8" r="1.33"/><circle cx="13.6" cy="210.5" r="1.28"/><circle cx="7.7" cy="220.6" r="1.39"/><circle cx="1.9" cy="230.8" r="1.51"/><circle cx="-4.0" cy="240.9" r="1.62"/><circle cx="23.7" cy="216.3" r="1.33"/><circle cx="17.9" cy="226.5" r="1.45"/><circle cx="12.0" cy="236.6" r="1.56"/><circle cx="6.2" cy="246.7" r="1.68"/><circle cx="0.3" cy="256.9" r="1.79"/><circle cx="33.8" cy="222.2" r="1.38"/><circle cx="28.0" cy="232.3" r="1.50"/><circle cx="22.1" cy="242.5" r="1.62"/><circle cx="16.3" cy="252.6" r="1.74"/><circle cx="10.4" cy="262.7" r="1.85"/><circle cx="4.6" cy="272.8" r="1.97"/><circle cx="-1.3" cy="283.0" r="2.08"/><circle cx="44.0" cy="228.0" r="1.42"/><circle cx="38.1" cy="238.2" r="1.54"/><circle cx="32.3" cy="248.3" r="1.66"/><circle cx="26.4" cy="258.4" r="1.78"/><circle cx="20.6" cy="268.6" r="1.90"/><circle cx="14.7" cy="278.7" r="2.02"/><circle cx="8.9" cy="288.8" r="2.14"/><circle cx="3.0" cy="299.0" r="2.26"/><circle cx="-2.8" cy="309.1" r="2.37"/><circle cx="54.1" cy="233.9" r="1.45"/><circle cx="48.3" cy="244.0" r="1.57"/><circle cx="42.4" cy="254.2" r="1.70"/><circle cx="36.6" cy="264.3" r="1.82"/><circle cx="30.7" cy="274.4" r="1.95"/><circle cx="24.9" cy="284.5" r="2.07"/><circle cx="19.0" cy="294.7" r="2.19"/><circle cx="13.2" cy="304.8" r="2.31"/><circle cx="7.3" cy="314.9" r="2.43"/><circle cx="1.5" cy="325.1" r="2.54"/><circle cx="-4.4" cy="335.2" r="2.65"/><circle cx="64.2" cy="239.7" r="1.47"/><circle cx="58.4" cy="249.9" r="1.60"/><circle cx="52.5" cy="260.0" r="1.72"/><circle cx="46.7" cy="270.1" r="1.85"/><circle cx="40.8" cy="280.3" r="1.98"/><circle cx="35.0" cy="290.4" r="2.10"/><circle cx="29.1" cy="300.5" r="2.23"/><circle cx="23.3" cy="310.7" r="2.35"/><circle cx="17.4" cy="320.8" r="2.48"/><circle cx="11.6" cy="330.9" r="2.60"/><circle cx="5.7" cy="341.1" r="2.72"/><circle cx="-0.1" cy="351.2" r="2.83"/><circle cx="74.4" cy="245.6" r="1.48"/><circle cx="68.5" cy="255.7" r="1.61"/><circle cx="62.7" cy="265.9" r="1.74"/><circle cx="56.8" cy="276.0" r="1.87"/><circle cx="51.0" cy="286.1" r="2.00"/><circle cx="45.1" cy="296.2" r="2.13"/><circle cx="39.3" cy="306.4" r="2.25"/><circle cx="33.4" cy="316.5" r="2.38"/><circle cx="27.6" cy="326.6" r="2.51"/><circle cx="21.7" cy="336.8" r="2.63"/><circle cx="15.9" cy="346.9" r="2.76"/><circle cx="10.0" cy="357.0" r="2.88"/><circle cx="4.2" cy="367.2" r="3.00"/><circle cx="-1.7" cy="377.3" r="3.12"/><circle cx="84.5" cy="251.4" r="1.49"/><circle cx="78.7" cy="261.6" r="1.62"/><circle cx="72.8" cy="271.7" r="1.75"/><circle cx="67.0" cy="281.8" r="1.88"/><circle cx="61.1" cy="292.0" r="2.01"/><circle cx="55.3" cy="302.1" r="2.13"/><circle cx="49.4" cy="312.2" r="2.26"/><circle cx="43.6" cy="322.4" r="2.39"/><circle cx="37.7" cy="332.5" r="2.52"/><circle cx="31.9" cy="342.6" r="2.65"/><circle cx="26.0" cy="352.8" r="2.78"/><circle cx="20.2" cy="362.9" r="2.91"/><circle cx="14.3" cy="373.0" r="3.03"/><circle cx="8.5" cy="383.2" r="3.16"/><circle cx="2.6" cy="393.3" r="3.29"/><circle cx="-3.2" cy="403.4" r="3.36"/><circle cx="94.6" cy="257.3" r="1.49"/><circle cx="88.8" cy="267.4" r="1.62"/><circle cx="82.9" cy="277.6" r="1.75"/><circle cx="77.1" cy="287.7" r="1.87"/><circle cx="71.2" cy="297.8" r="2.00"/><circle cx="65.4" cy="307.9" r="2.13"/><circle cx="59.5" cy="318.1" r="2.26"/><circle cx="53.7" cy="328.2" r="2.39"/><circle cx="47.8" cy="338.3" r="2.52"/><circle cx="42.0" cy="348.5" r="2.64"/><circle cx="36.1" cy="358.6" r="2.77"/><circle cx="30.3" cy="368.7" r="2.90"/><circle cx="24.4" cy="378.9" r="3.02"/><circle cx="18.6" cy="389.0" r="3.14"/><circle cx="12.7" cy="399.1" r="3.25"/><circle cx="104.8" cy="263.1" r="1.48"/><circle cx="98.9" cy="273.3" r="1.61"/><circle cx="93.1" cy="283.4" r="1.73"/><circle cx="87.2" cy="293.5" r="1.86"/><circle cx="81.4" cy="303.7" r="1.99"/><circle cx="75.5" cy="313.8" r="2.11"/><circle cx="69.7" cy="323.9" r="2.24"/><circle cx="63.8" cy="334.1" r="2.37"/><circle cx="58.0" cy="344.2" r="2.49"/><circle cx="52.1" cy="354.3" r="2.62"/><circle cx="46.3" cy="364.5" r="2.74"/><circle cx="40.4" cy="374.6" r="2.86"/><circle cx="34.6" cy="384.7" r="2.97"/><circle cx="28.7" cy="394.9" r="3.07"/><circle cx="22.9" cy="405.0" r="3.15"/><circle cx="114.9" cy="269.0" r="1.46"/><circle cx="109.0" cy="279.1" r="1.58"/><circle cx="103.2" cy="289.3" r="1.71"/><circle cx="97.3" cy="299.4" r="1.84"/><circle cx="91.5" cy="309.5" r="1.96"/><circle cx="85.6" cy="319.6" r="2.09"/><circle cx="79.8" cy="329.8" r="2.21"/><circle cx="73.9" cy="339.9" r="2.33"/><circle cx="68.1" cy="350.0" r="2.45"/><circle cx="62.2" cy="360.2" r="2.57"/><circle cx="56.4" cy="370.3" r="2.68"/><circle cx="50.5" cy="380.4" r="2.79"/><circle cx="44.7" cy="390.6" r="2.89"/><circle cx="38.8" cy="400.7" r="2.97"/><circle cx="125.0" cy="274.8" r="1.43"/><circle cx="119.2" cy="285.0" r="1.55"/><circle cx="113.3" cy="295.1" r="1.68"/><circle cx="107.5" cy="305.2" r="1.80"/><circle cx="101.6" cy="315.4" r="1.92"/><circle cx="95.8" cy="325.5" r="2.04"/><circle cx="89.9" cy="335.6" r="2.16"/><circle cx="84.1" cy="345.8" r="2.28"/><circle cx="78.2" cy="355.9" r="2.40"/><circle cx="72.4" cy="366.0" r="2.51"/><circle cx="66.5" cy="376.2" r="2.61"/><circle cx="60.7" cy="386.3" r="2.71"/><circle cx="54.8" cy="396.4" r="2.79"/><circle cx="135.2" cy="280.7" r="1.39"/><circle cx="129.3" cy="290.8" r="1.52"/><circle cx="123.5" cy="301.0" r="1.64"/><circle cx="117.6" cy="311.1" r="1.76"/><circle cx="111.8" cy="321.2" r="1.88"/><circle cx="105.9" cy="331.3" r="1.99"/><circle cx="100.1" cy="341.5" r="2.11"/><circle cx="94.2" cy="351.6" r="2.22"/><circle cx="88.4" cy="361.7" r="2.33"/><circle cx="82.5" cy="371.9" r="2.43"/><circle cx="76.7" cy="382.0" r="2.53"/><circle cx="70.8" cy="392.1" r="2.61"/><circle cx="65.0" cy="402.3" r="2.69"/><circle cx="145.3" cy="286.5" r="1.35"/><circle cx="139.4" cy="296.7" r="1.47"/><circle cx="133.6" cy="306.8" r="1.59"/><circle cx="127.7" cy="316.9" r="1.71"/><circle cx="121.9" cy="327.1" r="1.82"/><circle cx="116.0" cy="337.2" r="1.93"/><circle cx="110.2" cy="347.3" r="2.04"/><circle cx="104.3" cy="357.5" r="2.15"/><circle cx="98.5" cy="367.6" r="2.25"/><circle cx="92.6" cy="377.7" r="2.34"/><circle cx="86.8" cy="387.9" r="2.43"/><circle cx="80.9" cy="398.0" r="2.51"/><circle cx="155.4" cy="292.4" r="1.30"/><circle cx="149.6" cy="302.5" r="1.42"/><circle cx="143.7" cy="312.7" r="1.53"/><circle cx="137.9" cy="322.8" r="1.65"/><circle cx="132.0" cy="332.9" r="1.76"/><circle cx="126.2" cy="343.0" r="1.86"/><circle cx="120.3" cy="353.2" r="1.97"/><circle cx="114.5" cy="363.3" r="2.07"/><circle cx="108.6" cy="373.4" r="2.16"/><circle cx="102.8" cy="383.6" r="2.25"/><circle cx="96.9" cy="393.7" r="2.33"/><circle cx="91.1" cy="403.8" r="2.40"/><circle cx="159.7" cy="308.4" r="1.36"/><circle cx="153.9" cy="318.5" r="1.47"/><circle cx="148.0" cy="328.6" r="1.58"/><circle cx="142.2" cy="338.8" r="1.68"/><circle cx="136.3" cy="348.9" r="1.79"/><circle cx="130.5" cy="359.0" r="1.89"/><circle cx="124.6" cy="369.2" r="1.98"/><circle cx="118.8" cy="379.3" r="2.07"/><circle cx="112.9" cy="389.4" r="2.15"/><circle cx="107.1" cy="399.6" r="2.22"/><circle cx="169.8" cy="314.2" r="1.29"/><circle cx="164.0" cy="324.4" r="1.40"/><circle cx="158.1" cy="334.5" r="1.50"/><circle cx="152.3" cy="344.6" r="1.61"/><circle cx="146.4" cy="354.7" r="1.70"/><circle cx="140.6" cy="364.9" r="1.80"/><circle cx="134.7" cy="375.0" r="1.89"/><circle cx="128.9" cy="385.1" r="1.97"/><circle cx="123.0" cy="395.3" r="2.04"/><circle cx="117.2" cy="405.4" r="2.11"/><circle cx="180.0" cy="320.1" r="1.22"/><circle cx="174.1" cy="330.2" r="1.32"/><circle cx="168.3" cy="340.3" r="1.42"/><circle cx="162.4" cy="350.5" r="1.52"/><circle cx="156.6" cy="360.6" r="1.62"/><circle cx="150.7" cy="370.7" r="1.70"/><circle cx="144.9" cy="380.9" r="1.79"/><circle cx="139.0" cy="391.0" r="1.87"/><circle cx="133.2" cy="401.1" r="1.93"/><circle cx="190.1" cy="325.9" r="1.14"/><circle cx="184.3" cy="336.1" r="1.24"/><circle cx="178.4" cy="346.2" r="1.34"/><circle cx="172.6" cy="356.3" r="1.43"/><circle cx="166.7" cy="366.4" r="1.52"/><circle cx="160.9" cy="376.6" r="1.61"/><circle cx="155.0" cy="386.7" r="1.69"/><circle cx="149.2" cy="396.8" r="1.76"/><circle cx="200.2" cy="331.8" r="1.06"/><circle cx="194.4" cy="341.9" r="1.16"/><circle cx="188.5" cy="352.0" r="1.25"/><circle cx="182.7" cy="362.2" r="1.34"/><circle cx="176.8" cy="372.3" r="1.43"/><circle cx="171.0" cy="382.4" r="1.51"/><circle cx="165.1" cy="392.6" r="1.58"/><circle cx="159.3" cy="402.7" r="1.65"/><circle cx="210.4" cy="337.6" r="0.98"/><circle cx="204.5" cy="347.8" r="1.07"/><circle cx="198.7" cy="357.9" r="1.16"/><circle cx="192.8" cy="368.0" r="1.24"/><circle cx="187.0" cy="378.1" r="1.33"/><circle cx="181.1" cy="388.3" r="1.40"/><circle cx="175.3" cy="398.4" r="1.47"/><circle cx="220.5" cy="343.5" r="0.89"/><circle cx="214.7" cy="353.6" r="0.98"/><circle cx="208.8" cy="363.7" r="1.06"/><circle cx="203.0" cy="373.9" r="1.14"/><circle cx="197.1" cy="384.0" r="1.22"/><circle cx="191.3" cy="394.1" r="1.29"/><circle cx="185.4" cy="404.3" r="1.36"/><circle cx="230.6" cy="349.3" r="0.80"/><circle cx="224.8" cy="359.5" r="0.88"/><circle cx="218.9" cy="369.6" r="0.96"/><circle cx="213.1" cy="379.7" r="1.04"/><circle cx="207.2" cy="389.8" r="1.12"/><circle cx="201.4" cy="400.0" r="1.18"/><circle cx="240.8" cy="355.2" r="0.70"/><circle cx="234.9" cy="365.3" r="0.78"/><circle cx="229.1" cy="375.4" r="0.86"/><circle cx="223.2" cy="385.6" r="0.94"/><circle cx="217.4" cy="395.7" r="1.01"/><circle cx="211.5" cy="405.8" r="1.07"/><circle cx="250.9" cy="361.0" r="0.60"/><circle cx="245.1" cy="371.2" r="0.68"/><circle cx="239.2" cy="381.3" r="0.76"/><circle cx="233.4" cy="391.4" r="0.83"/><circle cx="227.5" cy="401.5" r="0.90"/><circle cx="255.2" cy="377.0" r="0.58"/><circle cx="249.3" cy="387.1" r="0.65"/><circle cx="243.5" cy="397.3" r="0.72"/><circle cx="253.6" cy="403.1" r="0.61"/></g>
<!-- darker band under white stripe -->
<path d="M0,91 L400,91 L400.0,91.0 L402.0,91.0 L404.0,91.0 L406.0,91.0 L408.0,91.0 L410.0,91.0 L412.0,91.0 L414.0,91.0 L416.0,91.0 L418.0,91.0 L420.0,91.0 L422.0,91.0 L424.0,91.0 L426.0,91.0 L428.0,91.0 L430.0,91.0 L432.0,91.0 L434.0,91.0 L436.0,91.0 L438.0,91.0 L440.0,91.0 L442.0,91.0 L444.0,91.0 L446.0,91.0 L448.0,91.0 L450.0,91.0 L452.0,91.0 L454.0,91.0 L456.0,91.0 L458.0,91.0 L460.0,91.0 L462.0,91.0 L464.0,91.0 L466.0,91.0 L468.0,91.0 L470.0,91.0 L472.0,91.0 L474.0,91.0 L476.0,91.0 L478.0,91.0 L480.0,91.0 L482.0,91.0 L484.0,91.0 L486.0,91.0 L488.0,91.0 L490.0,91.0 L492.0,91.0 L494.0,91.0 L496.0,91.0 L498.0,91.0 L500.0,91.0 L502.0,90.9 L504.0,90.9 L506.0,90.9 L508.0,90.9 L510.0,90.9 L512.0,90.9 L514.0,90.9 L516.0,90.9 L518.0,90.8 L520.0,90.8 L522.0,90.8 L524.0,90.8 L526.0,90.8 L528.0,90.8 L530.0,90.7 L532.0,90.7 L534.0,90.7 L536.0,90.7 L538.0,90.7 L540.0,90.6 L542.0,90.6 L544.0,90.6 L546.0,90.6 L548.0,90.5 L550.0,90.5 L552.0,90.5 L554.0,90.4 L556.0,90.4 L558.0,90.3 L560.0,90.2 L562.0,90.1 L564.0,90.0 L566.0,89.9 L568.0,89.8 L570.0,89.7 L572.0,89.6 L574.0,89.4 L576.0,89.3 L578.0,89.2 L580.0,89.0 L582.0,88.8 L584.0,88.6 L586.0,88.4 L588.0,88.1 L590.0,87.8 L592.0,87.5 L594.0,87.1 L596.0,86.7 L598.0,86.3 L600.0,85.9 L602.0,85.5 L604.0,85.0 L606.0,84.6 L608.0,84.2 L610.0,83.7 L612.0,83.2 L614.0,82.7 L616.0,82.2 L618.0,81.7 L620.0,81.1 L622.0,80.5 L624.0,79.9 L626.0,79.2 L628.0,78.6 L630.0,77.9 L632.0,77.2 L634.0,76.5 L636.0,75.7 L638.0,75.0 L640.0,74.2 L642.0,73.4 L644.0,72.6 L646.0,71.7 L648.0,70.7 L650.0,69.8 L652.0,68.8 L654.0,67.7 L656.0,66.7 L658.0,65.6 L660.0,64.5 L662.0,63.4 L664.0,62.3 L666.0,61.1 L668.0,59.9 L670.0,58.7 L672.0,57.4 L674.0,56.1 L676.0,54.7 L678.0,53.4 L680.0,52.0 L682.0,50.6 L684.0,49.1 L686.0,47.7 L688.0,46.2 L690.0,44.7 L692.0,43.2 L694.0,41.7 L696.0,40.1 L698.0,38.6 L700.0,37.0 L702.0,35.4 L704.0,33.8 L706.0,32.2 L708.0,30.5 L710.0,28.8 L712.0,27.1 L714.0,25.4 L716.0,23.7 L718.0,21.9 L720.0,20.2 L722.0,18.5 L724.0,16.7 L726.0,14.9 L728.0,13.1 L730.0,11.3 L732.0,9.5 L734.0,7.7 L736.0,5.9 L738.0,4.1 L740.0,2.3 L742.0,0.5 L744.0,-1.3 L746.0,-3.1 L748.0,-5.0 L750.0,-7.1 L752.0,-9.4 L754.0,-11.8 L756.0,-14.4 L758.0,-17.1 L760.0,-20.0 L775,-20 L775,-20 L769.1,-13.9 L767.0,-10.7 L764.8,-7.8 L762.6,-4.9 L760.4,-2.3 L758.1,0.3 L755.9,2.7 L753.4,5.1 L751.2,7.0 L749.4,8.6 L747.4,10.4 L745.4,12.2 L743.4,14.0 L741.4,15.9 L739.4,17.7 L737.4,19.5 L735.3,21.3 L733.3,23.1 L731.3,24.9 L729.3,26.7 L727.2,28.5 L725.2,30.2 L723.2,32.0 L721.2,33.7 L719.1,35.5 L717.1,37.2 L715.1,38.9 L713.0,40.6 L711.0,42.3 L708.9,44.0 L706.8,45.6 L704.8,47.2 L702.7,48.8 L700.7,50.4 L698.7,52.0 L696.6,53.5 L694.6,55.0 L692.5,56.6 L690.4,58.1 L688.4,59.5 L686.3,61.0 L684.2,62.4 L682.1,63.9 L680.1,65.2 L678.0,66.6 L675.9,67.9 L673.8,69.3 L671.7,70.6 L669.6,71.9 L667.5,73.3 L665.4,74.5 L663.4,75.7 L661.4,76.8 L659.3,78.0 L657.2,79.1 L655.2,80.3 L653.1,81.4 L651.0,82.5 L648.8,83.6 L646.7,84.7 L644.5,85.8 L642.4,86.6 L640.4,87.4 L638.3,88.3 L636.2,89.1 L634.2,89.9 L632.1,90.7 L630.0,91.4 L627.9,92.2 L625.8,92.9 L623.7,93.6 L621.5,94.3 L619.4,95.0 L617.3,95.6 L615.1,96.3 L613.0,96.9 L611.0,97.3 L609.0,97.8 L606.9,98.3 L604.9,98.7 L602.8,99.2 L600.7,99.7 L598.6,100.2 L596.5,100.6 L594.4,101.1 L592.2,101.5 L590.0,102.0 L587.8,102.4 L585.6,102.8 L583.4,103.1 L581.1,103.4 L579.1,103.6 L577.0,103.8 L575.0,103.9 L573.0,104.1 L570.9,104.3 L568.8,104.4 L566.8,104.6 L564.7,104.7 L562.7,104.8 L560.6,104.9 L558.5,105.1 L556.5,105.2 L554.4,105.2 L552.3,105.3 L550.2,105.4 L548.2,105.4 L546.2,105.5 L544.2,105.5 L542.2,105.5 L540.2,105.5 L538.2,105.6 L536.2,105.6 L534.2,105.6 L532.2,105.6 L530.2,105.7 L528.1,105.7 L526.1,105.7 L524.1,105.7 L522.1,105.8 L520.1,105.8 L518.1,105.8 L516.1,105.8 L514.1,105.8 L512.1,105.8 L510.1,105.9 L508.1,105.9 L506.1,105.9 L504.1,105.9 L502.1,105.9 L500.1,105.9 L498.1,105.9 L496.1,106.0 L494.0,106.0 L492.0,106.0 L490.0,106.0 L488.0,106.0 L486.0,106.0 L484.0,106.0 L482.0,106.0 L480.0,106.0 L478.0,106.0 L476.0,106.0 L474.0,106.0 L472.0,106.0 L470.0,106.0 L468.0,106.0 L466.0,106.0 L464.0,106.0 L462.0,106.0 L460.0,106.0 L458.0,106.0 L456.0,106.0 L454.0,106.0 L452.0,106.0 L450.0,106.0 L448.0,106.0 L446.0,106.0 L444.0,106.0 L442.0,106.0 L440.0,106.0 L438.0,106.0 L436.0,106.0 L434.0,106.0 L432.0,106.0 L430.0,106.0 L428.0,106.0 L426.0,106.0 L424.0,106.0 L422.0,106.0 L420.0,106.0 L418.0,106.0 L416.0,106.0 L414.0,106.0 L412.0,106.0 L410.0,106.0 L408.0,106.0 L406.0,106.0 L404.0,106.0 L402.0,106.0 L400.0,106.0 L0,106 Z" fill="#602000" fill-opacity="0.12"/>
<!-- streaks -->
<g fill="#e8641e" fill-opacity="0.75">
 <path d="M56,90 L62,90 L106,117 L100,117 Z"/>
 <path d="M322,90 L329,90 L380,119 L364,119 Z"/>
 <path d="M0,176 L0,188 L34,210 L34,198 Z"/>
 <path d="M744,197 L768,209 L768,219 L744,205 Z"/>
 <path d="M706,370 L720,370 L768,396 L768,403 L760,403 Z"/>
</g>
<g fill="#fcd9a0" fill-opacity="0.75">
 <path d="M239,90 L243,90 L274,110 L272,110 Z"/>
 <path d="M680,64 L684,64 L768,110 L768,116 Z"/>
 <path d="M0,270 L0,276 L32,295 L32,292 Z"/>
 <path d="M0,334 L0,341 L76,385 L73,381 Z"/>
 <path d="M155,370 L161,370 L219,403 L212,403 Z"/>
 <path d="M527,370 L536,370 L597,403 L585,403 Z"/>
</g>

<!-- header -->
<path d="M0,-10 L748,-10 L748.0,-5.0 L747.0,-4.1 L744.0,-1.4 L741.0,1.4 L738.0,4.1 L735.0,6.8 L732.0,9.5 L729.0,12.2 L726.0,14.9 L723.0,17.6 L720.0,20.2 L717.0,22.8 L714.0,25.4 L711.0,28.0 L708.0,30.5 L705.0,33.0 L702.0,35.4 L699.0,37.8 L696.0,40.1 L693.0,42.4 L690.0,44.7 L687.0,47.0 L684.0,49.1 L681.0,51.3 L678.0,53.4 L675.0,55.4 L672.0,57.4 L669.0,59.3 L666.0,61.1 L663.0,62.9 L660.0,64.5 L657.0,66.2 L654.0,67.7 L651.0,69.3 L648.0,70.7 L645.0,72.1 L642.0,73.4 L639.0,74.6 L636.0,75.7 L633.0,76.8 L630.0,77.9 L627.0,78.9 L624.0,79.9 L621.0,80.8 L618.0,81.7 L615.0,82.5 L612.0,83.2 L609.0,83.9 L606.0,84.6 L603.0,85.3 L600.0,85.9 L597.0,86.5 L594.0,87.1 L591.0,87.6 L588.0,88.1 L585.0,88.5 L582.0,88.8 L579.0,89.1 L576.0,89.3 L573.0,89.5 L570.0,89.7 L567.0,89.9 L564.0,90.0 L561.0,90.2 L558.0,90.3 L555.0,90.4 L552.0,90.5 L549.0,90.5 L546.0,90.6 L543.0,90.6 L540.0,90.6 L537.0,90.7 L534.0,90.7 L531.0,90.7 L528.0,90.8 L525.0,90.8 L522.0,90.8 L519.0,90.8 L516.0,90.9 L513.0,90.9 L510.0,90.9 L507.0,90.9 L504.0,90.9 L501.0,91.0 L498.0,91.0 L495.0,91.0 L492.0,91.0 L489.0,91.0 L486.0,91.0 L483.0,91.0 L480.0,91.0 L0,91 Z" fill="#ffffff"/>
<path d="M0,-10 L722,-10 L722.0,-5.0 L720.0,-3.1 L717.0,-0.4 L714.0,2.4 L711.0,5.1 L708.0,7.9 L705.0,10.6 L702.0,13.2 L699.0,15.9 L696.0,18.4 L693.0,21.0 L690.0,23.5 L687.0,26.1 L684.0,28.6 L681.0,31.2 L678.0,33.7 L675.0,36.0 L672.0,38.2 L669.0,40.4 L666.0,42.4 L663.0,44.4 L660.0,46.2 L657.0,47.9 L654.0,49.6 L651.0,51.2 L648.0,52.7 L645.0,54.1 L642.0,55.5 L639.0,56.7 L636.0,57.9 L633.0,59.1 L630.0,60.2 L627.0,61.3 L624.0,62.3 L621.0,63.3 L618.0,64.2 L615.0,65.1 L612.0,65.8 L609.0,66.5 L606.0,67.2 L603.0,67.8 L600.0,68.4 L597.0,68.9 L594.0,69.5 L591.0,69.9 L588.0,70.4 L585.0,70.7 L582.0,71.0 L579.0,71.3 L576.0,71.5 L573.0,71.7 L570.0,71.9 L567.0,72.0 L564.0,72.2 L561.0,72.3 L558.0,72.4 L555.0,72.5 L552.0,72.6 L549.0,72.6 L546.0,72.7 L543.0,72.7 L540.0,72.7 L537.0,72.8 L534.0,72.8 L531.0,72.8 L528.0,72.9 L525.0,72.9 L522.0,72.9 L519.0,72.9 L516.0,73.0 L513.0,73.0 L510.0,73.0 L507.0,73.0 L504.0,73.0 L501.0,73.1 L498.0,73.1 L495.0,73.1 L492.0,73.1 L489.0,73.1 L486.0,73.1 L483.0,73.1 L480.0,73.1 L0,73.1 Z" fill="#03213f"/>
<text x="0" y="0" transform="translate(19.9,44.6) scale(1,1.07)" font-size="28" font-weight="bold" fill="#ffffff" stroke="#ffffff" stroke-width="0.8" stroke-linejoin="round" letter-spacing="0.29">DESIGN &amp; COMPONENTS OF AN IR SENSOR</text>

<!-- card -->
<rect x="33.5" y="120.5" width="709" height="248.8" rx="9" ry="9" fill="#ffffff" stroke="#000000" stroke-width="3"/>

<!-- pills -->
<rect x="123" y="140" width="111" height="26" rx="13" fill="#000"/>
<text x="131" y="158.7" font-size="14.3" font-weight="bold" fill="#fff">Circuit Image</text>
<rect x="519" y="148" width="104" height="27" rx="13.5" fill="#000"/>
<text x="527" y="167.1" font-size="14.5" font-weight="bold" fill="#fff">Components</text>


<!-- circuit -->
<g fill="none" stroke-linecap="butt">
 <g stroke="#5473b4" stroke-width="1.5">
  <path d="M83.8,255 V213.3 H230.4 V244.5"/>
  <path d="M83.8,255 V287.4"/>
  <path d="M125.6,196 V219"/>
  <path d="M125.6,255.5 V287"/>
  <path d="M171.2,213.3 V288"/>
  <path d="M83.8,314 V324.6 H310.8 V318"/>
  <path d="M125.6,314 V333"/>
  <path d="M171.2,312 V324.6"/>
  <path d="M230.4,288 V324.6"/>
  <path d="M125.6,265.2 H203"/>
  <path d="M195.8,300 V279.4 H209"/>
  <path d="M181,300 H195.8"/>
  <path d="M257,272.6 H269"/>
  <path d="M297,272.6 H335.5"/>
  <path d="M310.8,272.6 V296"/>
 </g>
 <g stroke="#c9a49a" stroke-width="1.3">
  <path d="M83.8,229 V255"/>
  <path d="M125.6,219 V255.5"/>
  <path d="M230.4,244.5 V265.3"/>
  <path d="M230.4,279.4 V288"/>
  <path d="M203,265.2 H216.6"/>
  <path d="M209,279.4 H216.6"/>
  <path d="M244.1,272.6 H257"/>
  <path d="M310.8,296 V318"/>
 </g>
 <g stroke="#6d6d6d" stroke-width="1.2">
  <path d="M83.8,287.4 V289.4 M83.8,310.8 V314"/>
  <path d="M125.6,287 V289 M125.6,310.5 V314"/>
  <path d="M171.2,288 V293.4 M171.2,308.4 V312"/>
  <path d="M269,272.6 H272.4 M294.2,272.6 H297"/>
  <path d="M125.6,333 V338.5"/>
  <path d="M175.5,300 H181"/>
 </g>
 <g stroke="#383838" stroke-width="1.05" stroke-linejoin="miter">
  <path d="M83.8,289.4 L87.3,292.5 L80.3,295.5 L87.3,298.6 L80.3,301.6 L87.3,304.7 L80.3,307.7 L83.8,310.8"/>
  <path d="M125.6,289.0 L129.1,292.1 L122.1,295.1 L129.1,298.2 L122.1,301.3 L129.1,304.4 L122.1,307.4 L125.6,310.5"/>
  <path d="M171.2,293.4 L174.2,295.5 L168.2,297.7 L174.2,299.8 L168.2,302.0 L174.2,304.1 L168.2,306.3 L171.2,308.4"/>
  <path d="M272.4,272.6 L274.6,269 L277.4,276.2 L280.2,269 L283,276.2 L285.8,269 L288.6,276.2 L291.4,269 L293.6,275 L294.2,272.6"/>
 </g>
 <!-- opamp -->
 <path d="M216.6,258.6 L244.1,272.4 L216.6,286.1 Z" stroke="#484848" stroke-width="1" fill="#fff"/>
 <path d="M219.8,266 H223.8 M221.8,264 V268 M219.8,279.4 H223.8" stroke="#333" stroke-width="0.9"/>
 <!-- IR LED -->
 <path d="M79.4,241 H88.2 L83.8,247.4 Z" fill="#7a0c12" stroke="#5a0a0a" stroke-width="0.6"/>
 <path d="M79.4,248 H88.2" stroke="#444" stroke-width="1"/>
 <path d="M89.4,246 L93.5,250 M92,243.4 L96.6,247.6" stroke="#222" stroke-width="0.9"/>
 <path d="M94.3,251 L92.2,250.6 L93.6,249.3 Z M97.5,248.6 L95.4,248.2 L96.8,246.9 Z" fill="#222" stroke="#222" stroke-width="0.6"/>
 <!-- photo diode -->
 <path d="M121.8,238.2 H130" stroke="#333" stroke-width="1"/>
 <path d="M125.6,238.4 L121.5,244 H129.9 Z" stroke="#333" stroke-width="0.9" fill="#fff"/>
 <path d="M113.6,236.8 L120.4,240.4 M114.2,239.6 L120.6,243" stroke="#333" stroke-width="0.9"/>
 <!-- LED1 -->
 <path d="M306,303.6 H315.6 L310.8,310.6 Z" fill="#7a0c12" stroke="#5a0a0a" stroke-width="0.6"/>
 <path d="M306,311.4 H315.6" stroke="#444" stroke-width="1"/>
 <path d="M316.5,312.5 L321,317 M319.2,310.6 L323.6,315" stroke="#222" stroke-width="0.9"/>
 <path d="M322.2,318.2 L319.8,317.6 L321.6,315.8 Z M324.8,316.2 L322.4,315.6 L324.2,313.8 Z" fill="#222" stroke="#222" stroke-width="0.5"/>
 <!-- ground -->
 <path d="M119.8,338.5 H131.5 L125.6,343.4 Z" fill="#777" stroke="#666" stroke-width="0.6"/>
 <!-- wiper arrow -->
 <path d="M175.2,300 L179.5,297.6 L179.5,302.4 Z" fill="#333"/>
 <!-- output circle -->
 <circle cx="337.6" cy="272.6" r="1.9" stroke="#333" stroke-width="1" fill="#fff"/>
</g>
<g fill="#0d0d22">
 <circle cx="125.6" cy="213.3" r="2.15"/>
 <circle cx="171.2" cy="213.3" r="2.15"/>
 <circle cx="125.6" cy="265.2" r="2.15"/>
 <circle cx="125.6" cy="324.6" r="2.15"/>
 <circle cx="171.2" cy="324.6" r="2.15"/>
 <circle cx="230.4" cy="324.6" r="2.15"/>
 <circle cx="310.8" cy="272.6" r="2.15"/>
</g>
<g fill="#55558a" font-size="6.5" stroke="#55558a" stroke-width="0.12">
 <text x="56" y="246.8">IR LED</text>
 <text x="131.8" y="243.8">PHOTO</text>
 <text x="131.8" y="249.7">DIODE</text>
 <text x="88.8" y="302.6">R1</text>
 <text x="89.6" y="309.1">100</text>
 <text x="130.3" y="302.6">R2</text>
 <text x="130.8" y="309.1">10k</text>
 <text x="154.6" y="303.2">RV1</text>
 <text x="156" y="310">10k</text>
 <text x="279" y="261">R3</text>
 <text x="279" y="267.4">330</text>
 <text x="217" y="275.8" font-size="6.8">LM358</text>
 <text x="320.2" y="310.4" font-size="6.8">LED1</text>
 <text x="208.6" y="264.4">3</text>
 <text x="208.6" y="278.2">2</text>
 <text x="249" y="271.8">1</text>
 <text x="0" y="0" transform="translate(228.2,251.2) rotate(-90)" text-anchor="middle" font-size="5.5">8</text>
 <text x="0" y="0" transform="translate(229.6,292.8) rotate(-90)" text-anchor="middle" font-size="5.5">4</text>
</g>
<g fill="#333" font-family="Liberation Serif">
 <text x="118.5" y="195.6" font-size="8.8" style="font-family:'Liberation Serif',serif">+5V</text>
 <text x="343.6" y="273" font-size="8.1" style="font-family:'Liberation Serif',serif" stroke="#333" stroke-width="0.1">OUTPUT</text>
</g>


<!-- IR module -->
<g>
 <!-- pins -->
 <g stroke="#d6d6d6" stroke-width="1.7" stroke-linecap="round">
  <path d="M394,237.4 H419 M394,247.3 H419 M394,257.3 H419"/>
 </g>
 <g stroke="#9a9a9a" stroke-width="0.6">
  <path d="M394,238.6 H419 M394,248.5 H419 M394,258.5 H419"/>
 </g>
 <!-- LEDs body -->
 <path d="M538,224 H563 A8.8,8.8 0 0 1 563,241.6 H538 Z" fill="#eef0f4" stroke="#d6d7de" stroke-width="0.8"/>
 <path d="M538,225 H545 V240.6 H538 Z" fill="#e2e3e8"/>
 <path d="M536,253 H561 A8.8,8.8 0 0 1 561,270.6 H536 Z" fill="#1b1b1d"/>
 <path d="M545,261.8 H566" stroke="#444" stroke-width="1"/>
 <!-- board -->
 <linearGradient id="pcbg" x1="418" y1="0" x2="535" y2="0" gradientUnits="userSpaceOnUse"><stop offset="0" stop-color="#0b3172"/><stop offset="0.45" stop-color="#0c3a86"/><stop offset="1" stop-color="#0d469c"/></linearGradient>
 <rect x="418.8" y="221.7" width="115.8" height="51.4" fill="url(#pcbg)"/>
 <rect x="418.8" y="221.7" width="115.8" height="51.4" fill="none" stroke="#0a3a8a" stroke-width="0.8"/>
 <!-- header -->
 <rect x="418.6" y="232" width="10.6" height="29.2" fill="#2b2b2e"/>
 <path d="M429.6,232.5 V261" stroke="#8aa0c8" stroke-width="0.8"/>
 <path d="M418.6,237.4 H424 M418.6,247.3 H424 M418.6,257.3 H424" stroke="#a0a0a0" stroke-width="1.6"/>
 <!-- silkscreen texts -->
 <text x="0" y="0" transform="translate(432,261) rotate(-90)" font-size="4.2" fill="#8ea6d6">VCC GND OUT</text>
 <path d="M437,224.5 H455" stroke="#7f9bd0" stroke-width="3" stroke-dasharray="3,1"/>
 <path d="M421,269 H454" stroke="#7f9bd0" stroke-width="3" stroke-dasharray="3,1"/>
 <!-- hole -->
 <circle cx="444.8" cy="247.8" r="5.8" fill="#ffffff"/>
 <!-- SMD LEDs -->
 <rect x="436" y="229.2" width="16" height="8.9" fill="none" stroke="#9fb3dc" stroke-width="0.9"/>
 <rect x="438.5" y="231" width="11" height="5.3" fill="#cfd0d0"/>
 <rect x="441" y="231.8" width="6" height="3.6" fill="#ffffff"/>
 <rect x="436" y="257.4" width="16" height="8.9" fill="none" stroke="#9fb3dc" stroke-width="0.9"/>
 <rect x="438.5" y="259.2" width="11" height="5.3" fill="#cfd0d0"/>
 <rect x="441" y="260" width="6" height="3.6" fill="#ffffff"/>
 <!-- small resistors -->
 <rect x="455.3" y="230" width="7.2" height="11.8" fill="none" stroke="#9fb3dc" stroke-width="0.9"/>
 <rect x="457" y="232.8" width="3.8" height="6.2" fill="#2a2a2a"/>
 <rect x="455.3" y="252.2" width="7.2" height="11.8" fill="none" stroke="#9fb3dc" stroke-width="0.9"/>
 <rect x="457" y="255" width="3.8" height="6.2" fill="#2a2a2a"/>
 <!-- IC -->
 <g stroke="#e0e0e0" stroke-width="2.4">
  <path d="M464.7,226.2 H470.6 M464.7,231.1 H470.6 M464.7,236.2 H470.6 M464.7,241.1 H470.6"/>
  <path d="M486.3,226.2 H492.2 M486.3,231.1 H492.2 M486.3,236.2 H492.2 M486.3,241.1 H492.2"/>
 </g>
 <rect x="470.6" y="224" width="15.7" height="18.6" fill="#1c1c1e"/>
 <circle cx="467" cy="223" r="0.8" fill="#cfd8ea"/>
 <!-- pot -->
 <rect x="463.2" y="245.5" width="29.8" height="26.8" fill="#235ab8" stroke="#6a94d8" stroke-width="0.7"/>
 <circle cx="478.8" cy="258.2" r="3.6" fill="#7d8494"/>
 <path d="M475.4,258.2 H482.2 M478.8,254.8 V261.6" stroke="#6a5040" stroke-width="1.5"/>
 <!-- SMD column -->
 <g>
  <rect x="495.3" y="224.7" width="14" height="8.2" rx="1" fill="none" stroke="#a9bde2" stroke-width="0.9"/>
  <rect x="495.3" y="234.4" width="14" height="8.2" rx="1" fill="none" stroke="#a9bde2" stroke-width="0.9"/>
  <rect x="495.3" y="244" width="14" height="8.2" rx="1" fill="none" stroke="#a9bde2" stroke-width="0.9"/>
  <rect x="495.3" y="253.7" width="14" height="8.2" rx="4" fill="none" stroke="#a9bde2" stroke-width="0.9"/>
  <rect x="495.3" y="263.4" width="14" height="8.2" rx="4" fill="none" stroke="#a9bde2" stroke-width="0.9"/>
  <rect x="497.5" y="226.3" width="9.6" height="5" fill="#5b4a3c"/>
  <rect x="497.5" y="236" width="9.6" height="5" fill="#5b4a3c"/>
  <rect x="497.5" y="245.6" width="9.6" height="5" fill="#4a4038"/>
  <rect x="497.5" y="255.3" width="9.6" height="5" fill="#8a8070"/>
  <rect x="497.5" y="265" width="9.6" height="5" fill="#8a8070"/>
  <rect x="500.5" y="226.8" width="3.6" height="4" fill="#d8d8d8"/>
  <rect x="500.5" y="236.5" width="3.6" height="4" fill="#d8d8d8"/>
  <rect x="500.5" y="246.1" width="3.6" height="4" fill="#2a2a2a"/>
  <rect x="500.5" y="255.8" width="3.6" height="4" fill="#c8b898"/>
  <rect x="500.5" y="265.5" width="3.6" height="4" fill="#c8b898"/>
 </g>
 <!-- pads -->
 <g fill="none" stroke="#b9c9e6" stroke-width="0.9">
  <rect x="522.1" y="223" width="10.5" height="9.7"/>
  <rect x="522.1" y="232.7" width="10.5" height="10.5"/>
  <rect x="522.1" y="252.9" width="10.5" height="9.7"/>
  <rect x="522.1" y="262.6" width="10.5" height="9.7"/>
 </g>
 <g fill="#7d8799" stroke="#d8dde8" stroke-width="0.9">
  <circle cx="527.3" cy="227.9" r="2.4"/>
  <circle cx="527.3" cy="238" r="2.4"/>
  <circle cx="527.3" cy="257.7" r="2.4"/>
  <circle cx="527.3" cy="267.4" r="2.4"/>
 </g>
 <path d="M527.3,227.9 H538 M527.3,238 H538 M527.3,257.7 H537 M527.3,267.4 H537" stroke="#d0d6e2" stroke-width="0.8"/>
</g>

<!-- obstacle diagram -->
<rect x="663.6" y="197.6" width="53.8" height="102" fill="none" stroke="#333" stroke-width="1"/>
<g class="serif" font-weight="bold" fill="#2a2a2a" stroke="#2a2a2a" stroke-width="0.32" font-size="7.4">
 <text x="581.5" y="219.8" textLength="31.5" lengthAdjust="spacingAndGlyphs">IR Emitter</text>
 <text x="579.5" y="283.4" textLength="35.2" lengthAdjust="spacingAndGlyphs">IR Reciever</text>
 <text x="678.8" y="248" font-size="7.6" textLength="23.8" lengthAdjust="spacingAndGlyphs">OBJECT</text>
 <text x="674.9" y="255.8" font-size="7.6" textLength="31.6" lengthAdjust="spacingAndGlyphs">(Obstacle)</text>
</g>
<g stroke="#d63150" stroke-width="0.9" fill="#d63150">
 <path d="M616.8,230.5 L659,237.9 M617.4,236.1 L659,244.6"/>
 <path d="M663.3,238.6 L658.2,235.6 L657.6,240.4 Z M663.3,245.4 L658.4,242.2 L657.6,247 Z"/>
</g>
<g stroke="#222" stroke-width="0.9" fill="#222">
 <path d="M663.3,240.5 L621.5,253.4 M663.3,247.3 L621.5,260.2"/>
 <path d="M617.4,254.7 L622.8,256 L621.3,251 Z M617.4,261.5 L622.8,262.8 L621.3,257.8 Z"/>
</g>

</svg>
</body></html>
